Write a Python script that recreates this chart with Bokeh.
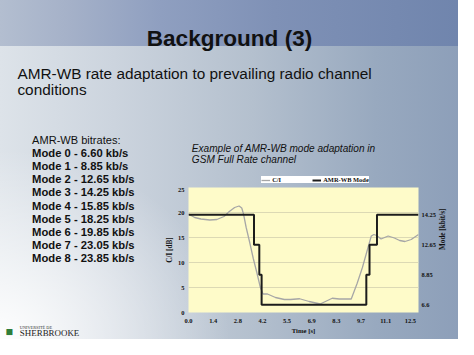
import math
from bokeh.plotting import figure
from bokeh.layouts import column, row
from bokeh.models import Range1d, LinearAxis, Label, Legend, LegendItem, FixedTicker
from bokeh.embed import file_html
from bokeh.resources import INLINE

# ---------------- data ----------------
time_ci = [0.0, 0.35, 0.7, 1.2, 1.6, 2.0, 2.3, 2.6, 2.85, 3.0, 3.1, 3.25, 3.45, 3.65, 3.85,
           4.05, 4.2, 4.45, 4.9, 5.4, 5.75, 6.26, 6.8, 7.42, 8.1, 8.5, 9.17, 9.5, 9.8,
           10.1, 10.3, 10.45, 10.6, 10.85, 11.25, 11.6, 11.9, 12.2, 12.55, 12.96]
ci_db = [19.7, 19.0, 18.7, 18.5, 18.6, 19.2, 20.2, 21.0, 21.3, 20.9, 19.7, 17.0, 14.0, 10.8, 8.0,
         5.0, 3.7, 3.7, 3.0, 2.6, 2.6, 2.75, 2.2, 1.7, 2.85, 2.7, 2.7, 5.8, 9.0,
         12.8, 15.3, 15.6, 15.4, 14.7, 15.3, 14.9, 14.4, 14.2, 14.6, 15.6]

time_mode = [0.0, 3.69, 3.99, 4.12, 10.02, 10.2, 10.62, 12.96]
mode_index = [3, 2, 1, 0, 1, 2, 3, 3]

x_ticks = [0.0, 1.39, 2.78, 4.17, 5.55, 6.94, 8.33, 9.72, 11.11, 12.5]
x_tick_labels = ["0.0", "1.4", "2.8", "4.2", "5.5", "6.9", "8.3", "9.7", "11.1", "12.5"]
y_ticks = [0, 5, 10, 15, 20, 25]
mode_ticks = [0, 1, 2, 3]
mode_tick_labels = ["6.6", "8.85", "12.65", "14.25"]

mode_names = ["Mode 0", "Mode 1", "Mode 2", "Mode 3", "Mode 4", "Mode 5", "Mode 6", "Mode 7", "Mode 8"]
bitrates = ["6.60", "8.85", "12.65", "14.25", "15.85", "18.25", "19.85", "23.05", "23.85"]

title_text = "Background (3)"
subtitle_lines = ["AMR-WB rate adaptation to prevailing radio channel", "conditions"]
caption_lines = ["Example of AMR-WB mode adaptation in", "GSM Full Rate channel"]
series_names = ["C/I", "AMR-WB Mode"]

# ---------------- layout (reference slide is 474x355, page is 458x339) ----------------
W, H = 458, 339
SX, SY = W / 474, H / 355
FS = (SX + SY) / 2

SANS = "Liberation Sans"
SERIF = "Liberation Serif"
INK = "#111111"
CI_COLOR, MODE_COLOR = "#a6a6a6", "#1c1c1c"

TOP_H = 187                 # everything above the plot area
LEFT_W = 162                # bitrate list column
CH_W, CH_H = W - LEFT_W, H - TOP_H
B_LEFT, B_RIGHT, B_BOTTOM = 26, 40, 27
FRAME_H = CH_H - B_BOTTOM
FRAME_BOTTOM = TOP_H + FRAME_H        # page px
LIST_SHIFT = 2.5                      # keeps the list clear of the strip boundary


def fs(px):
    return f"{px * FS:.2f}px"


def bare(width, height, **kw):
    # text-only canvas; its data ranges lie away from any series values
    f = figure(width=width, height=height, output_backend="svg", toolbar_location=None,
               x_range=Range1d(-2, -1), y_range=Range1d(-2, -1),
               x_axis_location=None, y_axis_location=None, min_border=0, **kw)
    f.grid.visible = False
    f.outline_line_color = None
    f.background_fill_alpha = 0
    f.border_fill_alpha = 0
    return f


def lab(f, ox, oy, rx, ry, text, size, style="normal", font=SANS, align="left", color=INK, dy=0.0):
    # rx, ry: position on the reference slide; ox, oy: frame's bottom-left on the page
    f.add_layout(Label(x=rx * SX - ox, y=oy - (ry * SY + dy), x_units="screen", y_units="screen",
                       text=text, text_font=font, text_font_size=fs(size), text_font_style=style,
                       text_color=color, text_align=align, text_baseline="middle"))


# ---- upper strip: title, subtitle, start of the list, caption, legend ----
top = bare(W, TOP_H)
lab(top, 0, TOP_H, 237, 40, title_text, 23.5, "bold", align="center")
lab(top, 0, TOP_H, 17.5, 76, subtitle_lines[0], 16)
lab(top, 0, TOP_H, 17.5, 93, subtitle_lines[1], 16)
lab(top, 0, TOP_H, 198, 154.5, caption_lines[0], 10.5, "italic")
lab(top, 0, TOP_H, 198, 166.5, caption_lines[1], 10.5, "italic")

left = bare(LEFT_W, CH_H, min_border_bottom=B_BOTTOM)

list_rows = ["AMR-WB bitrates:"] + [f"{m} - {b} kb/s" for m, b in zip(mode_names, bitrates)]
for i, txt in enumerate(list_rows):
    ry = 143 + 13.82 * i
    style, size = ("normal", 11.5) if i == 0 else ("bold", 11.7)
    if ry * SY + LIST_SHIFT < TOP_H - 6:
        lab(top, 0, TOP_H, 32.7, ry, txt, size, style, dy=LIST_SHIFT)
    else:
        lab(left, 0, FRAME_BOTTOM, 32.7, ry, txt, size, style, dy=LIST_SHIFT)

# legend keys: the same two series, drawn in the strip where they fall outside its view
ci_key = top.line(time_ci, ci_db, line_color=CI_COLOR, line_width=1.3)
mode_key = top.step(time_mode, mode_index, mode="after", line_color=MODE_COLOR, line_width=2)
legend = Legend(items=[LegendItem(label=series_names[0], renderers=[ci_key]),
                       LegendItem(label=series_names[1], renderers=[mode_key])],
                orientation="horizontal",
                location=(270.3 * SX, TOP_H - 191.7 * SY),
                padding=2, margin=0, spacing=20, glyph_width=9, glyph_height=6,
                label_height=6, label_standoff=2,
                label_text_font=SERIF, label_text_font_style="bold",
                label_text_font_size=fs(6.7), label_text_color=INK,
                background_fill_color="white", background_fill_alpha=1,
                border_line_color=None)
top.add_layout(legend)

# ---- chart ----
p = figure(width=CH_W, height=CH_H, output_backend="svg", toolbar_location=None,
           x_range=Range1d(0, 12.96), y_range=Range1d(0, 25),
           min_border_left=B_LEFT, min_border_right=B_RIGHT, min_border_top=0,
           min_border_bottom=B_BOTTOM)
p.extra_y_ranges = {"mode": Range1d(-0.255, 3.908)}
p.border_fill_alpha = 0
p.background_fill_color = "#fefbc9"
p.outline_line_color = None

p.line(time_ci, ci_db, line_color=CI_COLOR, line_width=1.3)
p.step(time_mode, mode_index, mode="after", y_range_name="mode",
       line_color=MODE_COLOR, line_width=2)

right_axis = LinearAxis(y_range_name="mode")
p.add_layout(right_axis, "right")
left_axis = p.left[0]
bottom_axis = p.below[0]

left_axis.ticker = FixedTicker(ticks=y_ticks)
bottom_axis.ticker = FixedTicker(ticks=x_ticks)
bottom_axis.major_label_overrides = dict(zip(x_ticks, x_tick_labels))
right_axis.ticker = FixedTicker(ticks=mode_ticks)
right_axis.major_label_overrides = dict(zip(mode_ticks, mode_tick_labels))

for ax in (left_axis, bottom_axis, right_axis):
    ax.axis_line_color = None
    ax.major_tick_line_color = None
    ax.minor_tick_line_color = None
    ax.major_tick_out = 0
    ax.major_tick_in = 0
    ax.minor_tick_out = 0
    ax.major_label_text_font = SERIF
    ax.major_label_text_font_style = "bold"
    ax.major_label_text_font_size = fs(6.7)
    ax.major_label_text_color = INK
    ax.axis_label_text_font = SERIF
    ax.axis_label_text_font_style = "bold"
    ax.axis_label_text_font_size = fs(7.5)
    ax.axis_label_text_color = INK

left_axis.major_label_standoff = 4
left_axis.axis_label = "C/I [dB]"
left_axis.axis_label_standoff = 1

bottom_axis.major_label_standoff = 6
bottom_axis.axis_label = "Time [s]"
bottom_axis.axis_label_standoff = 1
bottom_axis.axis_label_text_font_size = fs(7)

right_axis.major_label_standoff = 3
right_axis.axis_label = "Mode [kbit/s]"
right_axis.axis_label_standoff = 4
if "axis_label_orientation" in right_axis.properties():
    right_axis.axis_label_orientation = math.pi / 2

p.xgrid.visible = False
p.ygrid.ticker = FixedTicker(ticks=y_ticks)
p.ygrid.grid_line_color = "#dcd9b4"
p.ygrid.grid_line_width = 1

# ---- university logo, overlapping the bottom-left corner ----
LOGO_H = 16
logo = bare(LEFT_W, LOGO_H)
logo.margin = (-LOGO_H, 0, 0, 0)
lab(logo, 0, H, 9, 347.5, "■", 13, color="#2f7d3a", align="center")
lab(logo, 0, H, 20, 342, "UNIVERSITÉ DE", 4.5, font=SERIF, color="#333333")
lab(logo, 0, H, 20, 348.7, "SHERBROOKE", 9.3, font=SERIF, color="#222222")

band = round(48 * SY)
page = column(top, row(left, p), logo)
page.styles = {
    "background": (
        "linear-gradient(to right, #b3bed0 0%, #a6b2c9 14%, #8f9fc0 35%, #7f91b6 60%, #7085ad 100%) "
        f"0 0 / 100% {band}px no-repeat, "
        "radial-gradient(ellipse 230px 190px at 0% 100%, rgba(255,255,255,0.95) 0%, rgba(255,255,255,0) 100%), "
        "linear-gradient(to right, #dde3e9 0%, #ccd4de 25%, #b4c0ce 55%, #98a9bf 82%, #8d9fb9 100%)"
    )
}

open("out.html", "w").write(file_html(page, INLINE))
